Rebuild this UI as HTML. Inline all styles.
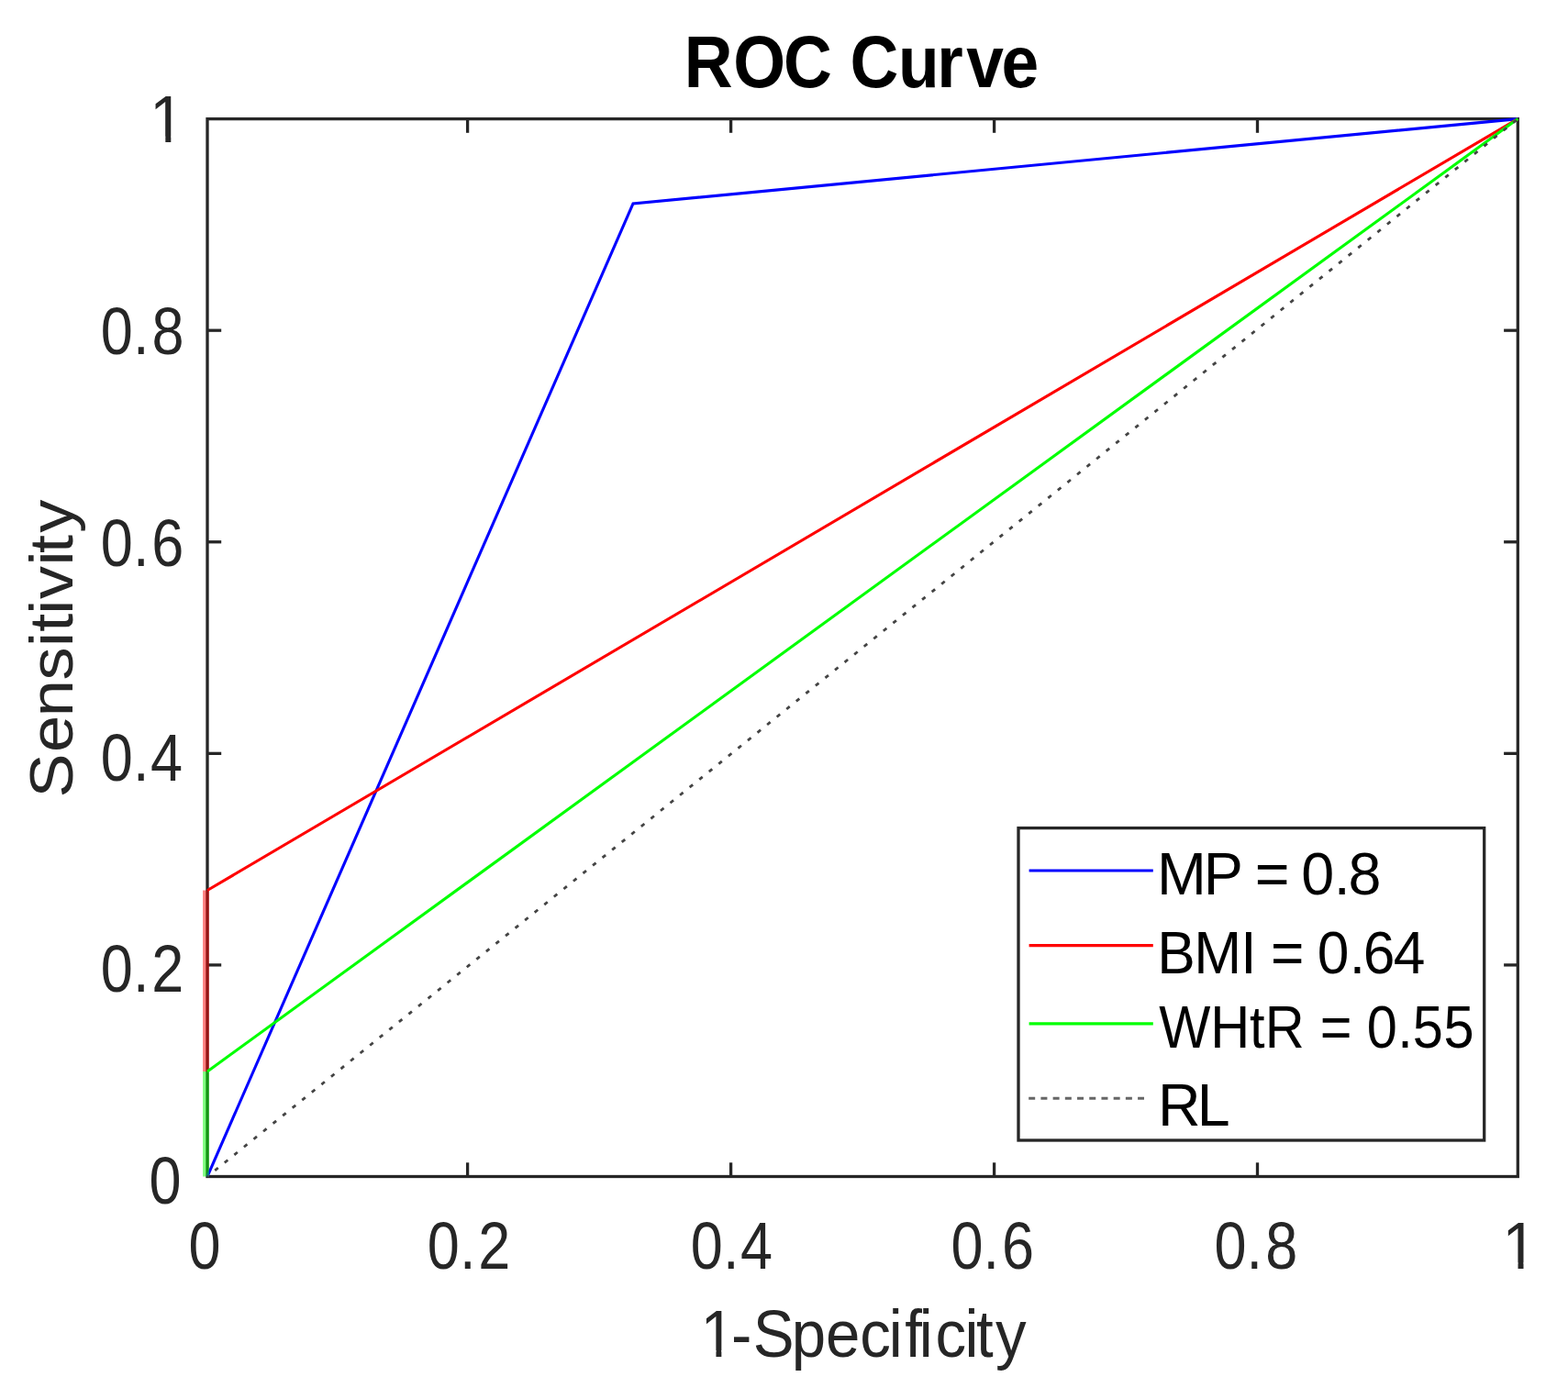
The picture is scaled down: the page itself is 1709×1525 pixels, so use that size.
<!DOCTYPE html>
<html><head><meta charset="utf-8"><title>ROC Curve</title>
<style>
html,body{margin:0;padding:0;background:#fff;overflow:hidden;}
svg{display:block;}
text{font-family:"Liberation Sans", sans-serif;font-variant-ligatures:none;}
</style></head>
<body>
<svg width="1709" height="1525" viewBox="0 0 1709 1525">
<rect width="1709" height="1525" fill="#fff"/>
<rect x="226.0" y="129.6" width="1428.30" height="1152.90" fill="none" stroke="#262626" stroke-width="3.3"/>
<line x1="509.6" y1="1282.5" x2="509.6" y2="1267.3" stroke="#262626" stroke-width="3.3"/>
<line x1="509.6" y1="129.6" x2="509.6" y2="144.79999999999998" stroke="#262626" stroke-width="3.3"/>
<line x1="796.6" y1="1282.5" x2="796.6" y2="1267.3" stroke="#262626" stroke-width="3.3"/>
<line x1="796.6" y1="129.6" x2="796.6" y2="144.79999999999998" stroke="#262626" stroke-width="3.3"/>
<line x1="1083.6" y1="1282.5" x2="1083.6" y2="1267.3" stroke="#262626" stroke-width="3.3"/>
<line x1="1083.6" y1="129.6" x2="1083.6" y2="144.79999999999998" stroke="#262626" stroke-width="3.3"/>
<line x1="1370.5" y1="1282.5" x2="1370.5" y2="1267.3" stroke="#262626" stroke-width="3.3"/>
<line x1="1370.5" y1="129.6" x2="1370.5" y2="144.79999999999998" stroke="#262626" stroke-width="3.3"/>
<line x1="226.0" y1="1051.92" x2="241.2" y2="1051.92" stroke="#262626" stroke-width="3.3"/>
<line x1="1654.3" y1="1051.92" x2="1639.1" y2="1051.92" stroke="#262626" stroke-width="3.3"/>
<line x1="226.0" y1="821.34" x2="241.2" y2="821.34" stroke="#262626" stroke-width="3.3"/>
<line x1="1654.3" y1="821.34" x2="1639.1" y2="821.34" stroke="#262626" stroke-width="3.3"/>
<line x1="226.0" y1="590.76" x2="241.2" y2="590.76" stroke="#262626" stroke-width="3.3"/>
<line x1="1654.3" y1="590.76" x2="1639.1" y2="590.76" stroke="#262626" stroke-width="3.3"/>
<line x1="226.0" y1="360.18" x2="241.2" y2="360.18" stroke="#262626" stroke-width="3.3"/>
<line x1="1654.3" y1="360.18" x2="1639.1" y2="360.18" stroke="#262626" stroke-width="3.3"/>
<polyline points="226.0,1282.5 690.0,222.0 1654.3,129.6" fill="none" stroke="#0000ff" stroke-width="3.1" stroke-linejoin="miter"/>
<rect x="221.1" y="970.5" width="6.8" height="197.5" fill="#ff0000" fill-opacity="0.5"/>
<line x1="226.0" y1="970.5" x2="1654.3" y2="129.6" stroke="#ff0000" stroke-width="3.1"/>
<rect x="221.1" y="1168.0" width="6.8" height="114.5" fill="#00ff00" fill-opacity="0.5"/>
<line x1="226.0" y1="1168.0" x2="1654.3" y2="129.6" stroke="#00ff00" stroke-width="3.1"/>
<line x1="226.0" y1="1282.5" x2="1654.3" y2="129.6" stroke="#444" stroke-width="2.8" stroke-dasharray="4.5 9.07" stroke-dashoffset="2.97"/>
<text transform="scale(0.8750,1)" x="234.74" y="1383.20" font-size="72" fill="#262626">0</text>
<text transform="scale(0.8750,1)" x="532.34 572.57 595.84" y="1383.20" font-size="72" fill="#262626">0.2</text>
<text transform="scale(0.8750,1)" x="860.34 900.57 922.40" y="1383.20" font-size="72" fill="#262626">0.4</text>
<text transform="scale(0.8750,1)" x="1184.46 1224.69 1248.07" y="1383.20" font-size="72" fill="#262626">0.6</text>
<text transform="scale(0.8750,1)" x="1512.46 1552.69 1576.29" y="1383.20" font-size="72" fill="#262626">0.8</text>
<text transform="scale(0.9500,1)" x="1723.49" y="1383.20" font-size="72" fill="#262626">1</text>
<text transform="scale(0.8750,1)" x="185.71" y="1312.40" font-size="72" fill="#262626">0</text>
<text transform="scale(0.8750,1)" x="125.37 165.60 188.87" y="1081.40" font-size="72" fill="#262626">0.2</text>
<text transform="scale(0.8750,1)" x="125.37 165.60 187.43" y="850.90" font-size="72" fill="#262626">0.4</text>
<text transform="scale(0.8750,1)" x="125.37 165.60 188.99" y="616.70" font-size="72" fill="#262626">0.6</text>
<text transform="scale(0.8750,1)" x="125.37 165.60 189.20" y="386.30" font-size="72" fill="#262626">0.8</text>
<text transform="scale(0.9500,1)" x="171.70" y="155.50" font-size="72" fill="#262626">1</text>
<text transform="scale(0.9255,1)" x="805.81 863.55 922.86 979.90 1001.03 1057.85 1103.57 1138.02 1179.25" y="95.10" font-size="79" font-weight="bold" fill="#000">ROC Curve</text>
<text transform="scale(0.9339,1)" x="817.62 853.48 878.80 923.78 963.59 1003.64 1037.33 1056.14 1072.72 1091.72 1125.99 1139.44 1161.71" y="1478.80" font-size="72" fill="#262626">1-Specificity</text>
<text transform="rotate(-90) translate(0,79.00) scale(1.0931,1)" x="-795.49 -750.13 -714.73 -678.29 -645.05 -629.98 -612.66 -597.46 -563.95 -551.72 -531.18" y="0" font-size="66" fill="#262626">Sensitivity</text>
<rect x="1110" y="902.6" width="507.7" height="340.4" fill="#fff" stroke="#262626" stroke-width="3.3"/>
<line x1="1121.6" y1="949.0" x2="1256.8" y2="949.0" stroke="#0000ff" stroke-width="3.2"/>
<line x1="1121.6" y1="1030.7" x2="1256.8" y2="1030.7" stroke="#ff0000" stroke-width="3.2"/>
<line x1="1121.6" y1="1115.9" x2="1256.8" y2="1115.9" stroke="#00ff00" stroke-width="3.2"/>
<line x1="1121.2" y1="1197.2" x2="1247" y2="1197.2" stroke="#666" stroke-width="3" stroke-dasharray="7 6.21"/>
<text transform="scale(1.0026,1)" x="1257.77 1308.25 1351.27 1364.26 1401.93 1414.48 1450.11 1465.60" y="975.30" font-size="64.5" fill="#000">MP = 0.8</text>
<text transform="scale(0.9653,1)" x="1306.67 1347.95 1400.81 1418.73 1434.89 1472.56 1487.27 1523.52 1539.07 1573.23" y="1060.60" font-size="64.5" fill="#000">BMI = 0.64</text>
<text transform="scale(0.9219,1)" x="1370.29 1430.98 1477.52 1495.66 1542.24 1560.55 1598.22 1615.84 1652.23 1670.18 1706.79" y="1141.70" font-size="64.5" fill="#000">WHtR = 0.55</text>
<text transform="scale(1.0000,1)" x="1261.90 1304.70" y="1227.30" font-size="64.5" fill="#000">RL</text>
<rect x="1641.04" y="1376.40" width="13.47" height="8.80" fill="#fff"/>
<rect x="1660.49" y="1376.40" width="12.90" height="8.80" fill="#fff"/>
<rect x="166.84" y="148.70" width="13.47" height="8.80" fill="#fff"/>
<rect x="186.29" y="148.70" width="12.90" height="8.80" fill="#fff"/>
<rect x="767.19" y="1472.00" width="13.27" height="8.80" fill="#fff"/>
<rect x="786.34" y="1472.00" width="12.71" height="8.80" fill="#fff"/>
</svg>
</body></html>
